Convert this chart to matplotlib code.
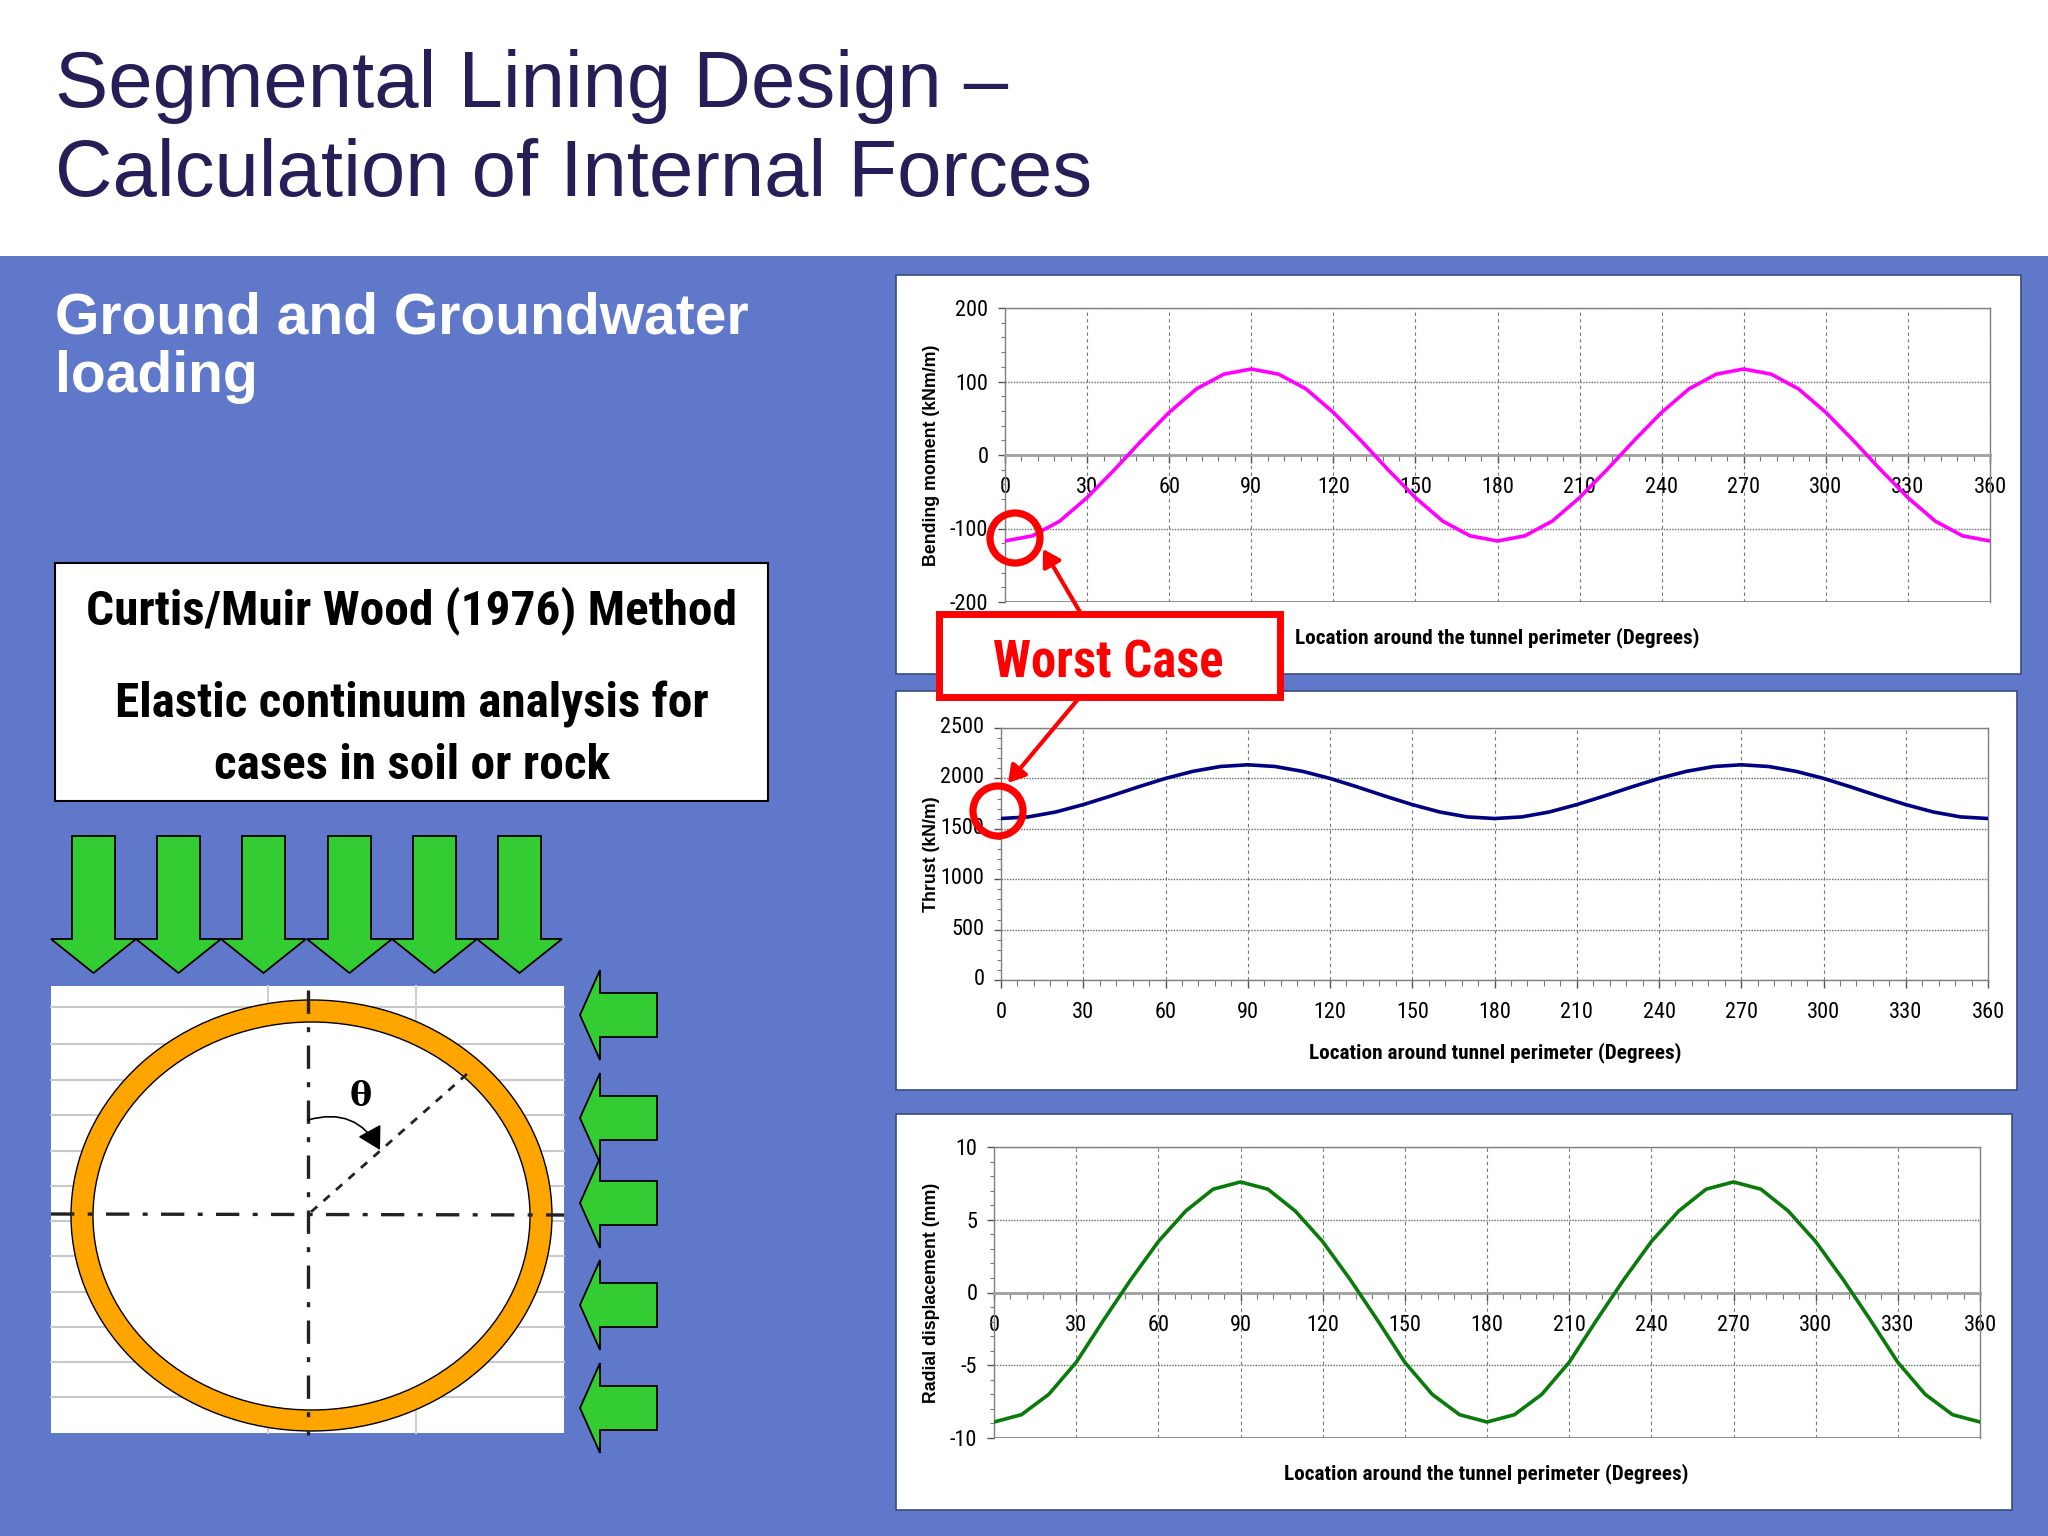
#!/usr/bin/env python3
"""Segmental lining slide: ground loading sketch and three internal force charts."""

import matplotlib
matplotlib.use("Agg")
import matplotlib.pyplot as plt
from matplotlib import font_manager as fm
from matplotlib.patches import Ellipse, FancyArrowPatch, Polygon, Rectangle
from matplotlib.ticker import MultipleLocator
from matplotlib.transforms import ScaledTranslation

W, H = 2048, 1536
BLUE = "#5F78C9"
NAVY_TITLE = "#261F57"
GREEN = "#33CC33"
RED = "#FF0000"

plt.rcParams["font.family"] = ["Liberation Sans", "DejaVu Sans"]
plt.rcParams["axes.unicode_minus"] = False

# condensed face if there is one, otherwise plain Arial look-alike at a smaller size
if "Roboto Condensed" in {f.name for f in fm.fontManager.ttflist}:
    NARROW, NARROW_SCALE = "Roboto Condensed", 1.0
else:
    NARROW, NARROW_SCALE = "Liberation Sans", 0.8

# ── Data ─────────────────────────────────────────────────────────

angle = list(range(0, 361, 10))

moment = [-117, -110, -90, -58, -20, 20, 58, 90, 110, 117,
          110, 90, 58, 20, -20, -58, -90, -110, -117,
          -110, -90, -58, -20, 20, 58, 90, 110, 117,
          110, 90, 58, 20, -20, -58, -90, -110, -117]

thrust = [1602, 1618, 1667, 1740, 1825, 1915, 2000, 2070, 2118, 2135,
          2118, 2070, 2000, 1915, 1825, 1740, 1667, 1618, 1602,
          1618, 1667, 1740, 1825, 1915, 2000, 2070, 2118, 2135,
          2118, 2070, 2000, 1915, 1825, 1740, 1667, 1618, 1602]

radial = [-8.9, -8.4, -7.0, -4.8, -1.9, 0.9, 3.5, 5.6, 7.1, 7.6,
          7.1, 5.6, 3.5, 0.9, -1.9, -4.8, -7.0, -8.4, -8.9,
          -8.4, -7.0, -4.8, -1.9, 0.9, 3.5, 5.6, 7.1, 7.6,
          7.1, 5.6, 3.5, 0.9, -1.9, -4.8, -7.0, -8.4, -8.9]

x_ticks = list(range(0, 361, 30))

fig = plt.figure(figsize=(W / 100, H / 100), dpi=100, facecolor=BLUE)

# ── Background layer (pixel coordinates) ─────────────────────────

bg = fig.add_axes([0, 0, 1, 1], zorder=0)
bg.set_xlim(0, W)
bg.set_ylim(H, 0)
bg.axis("off")
bg.add_patch(Rectangle((0, 0), W, 256, fc="white", ec="none"))
for x0, y0, x1, y1 in [(896, 275, 2021, 674), (896, 691, 2017, 1090), (896, 1114, 2012, 1510)]:
    bg.add_patch(Rectangle((x0, y0), x1 - x0, y1 - y0, fc="white", ec="#3A4A80", lw=1.2))


# ── Charts ───────────────────────────────────────────────────────

def make_chart(box, values, color, ylim, major, minor, ylabel, xlabel, label_xy, axis_at_zero, ytick_lift=0):
    left, top, right, bottom = box
    ax = fig.add_axes([left / W, 1 - bottom / H, (right - left) / W, (bottom - top) / H], zorder=1)
    ax.set_facecolor("none")
    ax.plot(angle, values, color=color, lw=2.6, zorder=5, solid_joinstyle="round")
    ax.set_xlim(0, 360)
    ax.set_ylim(*ylim)
    ax.set_xticks(x_ticks)
    ax.xaxis.set_minor_locator(MultipleLocator(6))
    ax.yaxis.set_major_locator(MultipleLocator(major))
    ax.yaxis.set_minor_locator(MultipleLocator(minor))
    ax.grid(True, axis="x", which="major", color="#777777", lw=0.8, ls=(0, (3, 3)))
    ax.grid(True, axis="y", which="major", color="#666666", lw=1.0, ls=(0, (1, 1)))
    for name in ["top", "right", "left", "bottom"]:
        ax.spines[name].set_color("#808080")
        ax.spines[name].set_linewidth(1.0)
    if axis_at_zero:
        ax.spines["bottom"].set_position(("data", 0))
        ax.spines["bottom"].set_linewidth(2.0)
        ax.spines["bottom"].set_color("#A0A0A0")
        ax.axhline(ylim[0], color="#808080", lw=1.2, zorder=2)
    ax.tick_params(axis="x", which="major", direction="out", length=6, width=1, color="#555555", pad=10)
    ax.tick_params(axis="x", which="minor", direction="out", length=4.5, width=0.8, color="#777777")
    ax.tick_params(axis="y", which="major", direction="out", length=5, width=1, color="#555555", pad=7)
    ax.tick_params(axis="y", which="minor", direction="out", length=3, width=0.8, color="#777777")
    for t in ax.get_xticklabels() + ax.get_yticklabels():
        t.set_fontfamily(NARROW)
        t.set_fontsize(16 * NARROW_SCALE)
        t.set_color("black")
    if ytick_lift:
        lift = ScaledTranslation(0, ytick_lift / 100, fig.dpi_scale_trans)
        for t in ax.get_yticklabels():
            t.set_transform(t.get_transform() + lift)
    ax.set_ylabel(ylabel, fontsize=12.8, fontweight="bold", va="center")
    ax.yaxis.set_label_coords((931 - left) / (right - left), 0.5)
    ax.set_xlabel(xlabel, fontsize=15.3 * NARROW_SCALE, fontweight="bold", family=NARROW, va="center")
    ax.xaxis.set_label_coords((label_xy[0] - left) / (right - left), (bottom - label_xy[1]) / (bottom - top))
    return ax


make_chart((1005, 308, 1990, 602), moment, "#FF00FF", (-200, 200), 100, 20,
           "Bending moment (kNm/m)", "Location around the tunnel perimeter (Degrees)", (1497, 638), True)
make_chart((1001, 728, 1988, 980), thrust, "#000080", (0, 2500), 500, 100,
           "Thrust (kN/m)", "Location around tunnel perimeter (Degrees)", (1495, 1053), False, ytick_lift=3)
make_chart((994, 1147, 1980, 1438), radial, "#0A7A0A", (-10, 10), 5, 1,
           "Radial displacement (mm)", "Location around the tunnel perimeter (Degrees)", (1486, 1474), True)

# ── Overlay layer (pixel coordinates) ────────────────────────────

ov = fig.add_axes([0, 0, 1, 1], zorder=2)
ov.set_xlim(0, W)
ov.set_ylim(H, 0)
ov.axis("off")
ov.patch.set_alpha(0)

ov.text(55, 107, "Segmental Lining Design \u2013", fontsize=57.4, color=NAVY_TITLE, va="baseline")
ov.text(55, 196, "Calculation of Internal Forces", fontsize=57.4, color=NAVY_TITLE, va="baseline")
ov.text(55, 334, "Ground and Groundwater", fontsize=41, color="white", fontweight="bold", va="baseline")
ov.text(55, 392, "loading", fontsize=41, color="white", fontweight="bold", va="baseline")

# method box
ov.add_patch(Rectangle((55, 563), 713, 238, fc="white", ec="black", lw=1.5))
for text, y in [("Curtis/Muir Wood (1976) Method", 611),
                ("Elastic continuum analysis for", 704),
                ("cases in soil or rock", 766)]:
    ov.text(412, y, text, fontsize=35.5 * NARROW_SCALE, fontweight="bold",
            family=NARROW, ha="center", va="center")

# ring sketch
ov.add_patch(Rectangle((51, 986), 513, 447, fc="white", ec="none", zorder=1))
for gy in [1007, 1044, 1080, 1115, 1151, 1186, 1221, 1256, 1292, 1327, 1362, 1397]:
    ov.plot([51, 564], [gy, gy], color="#C8C8C8", lw=1.5, zorder=1.1)
for gx in [268, 416]:
    ov.plot([gx, gx], [986, 1433], color="#D0D0D0", lw=1.5, zorder=1.1)
ov.add_patch(Ellipse((311.5, 1215.5), 481, 431, fc="#FFA500", ec="black", lw=1.0, zorder=1.2))
ov.add_patch(Ellipse((311.5, 1216), 437, 388, fc="white", ec="black", lw=1.0, zorder=1.3))
centre_x, centre_y = 308, 1214
dashdot = (0, (7, 4, 1.5, 4))
ov.plot([51, 564], [centre_y, centre_y + 1], color="#222222", lw=2.4, ls=dashdot)
ov.plot([centre_x, centre_x], [990, 1435], color="#222222", lw=2.4, ls=dashdot)
ov.plot([centre_x + 3, 467], [centre_y - 2, 1074], color="#222222", lw=2, ls=(0, (3, 3)))
ov.add_patch(FancyArrowPatch((centre_x, 1120), (380, 1150), connectionstyle="arc3,rad=-0.4",
                             arrowstyle="-|>,head_length=14,head_width=8", color="black", lw=1.2,
                             shrinkA=0, shrinkB=0, zorder=3))
ov.text(361, 1096, "\u03b8", fontsize=24, fontweight="bold", family="DejaVu Serif",
        ha="center", va="center", zorder=3)

# load arrows
for sx in [72, 157, 242, 328, 413, 498]:
    pts = [(sx, 836), (sx + 43, 836), (sx + 43, 939), (sx + 64, 939), (sx + 21.5, 973),
           (sx - 21, 939), (sx, 939)]
    ov.add_patch(Polygon(pts, closed=True, fc=GREEN, ec="black", lw=1.3))
for cy in [1015, 1118, 1203, 1305, 1408]:
    pts = [(657, cy - 22), (657, cy + 22), (600, cy + 22), (600, cy + 45), (580, cy),
           (600, cy - 45), (600, cy - 22)]
    ov.add_patch(Polygon(pts, closed=True, fc=GREEN, ec="black", lw=1.3))

# worst case callout
for cx, cy in [(1015, 538), (998, 811)]:
    ov.add_patch(Ellipse((cx, cy), 50, 50, fc="none", ec=RED, lw=5.2))
for start, tip in [((1080, 612), (1043, 549)), ((1079, 698), (1008, 783))]:
    ov.add_patch(FancyArrowPatch(start, tip, arrowstyle="-|>,head_length=10,head_width=6",
                                 color=RED, lw=3, shrinkA=0, shrinkB=0))
ov.add_patch(Rectangle((938.5, 614), 341.5, 83, fc="white", ec=RED, lw=5))
ov.text(1108, 664, "Worst Case", fontsize=36.5 * NARROW_SCALE, fontweight="bold", color=RED,
        family=NARROW, ha="center", va="center")

fig.savefig("out.png", dpi=100, facecolor=BLUE)
plt.close()
